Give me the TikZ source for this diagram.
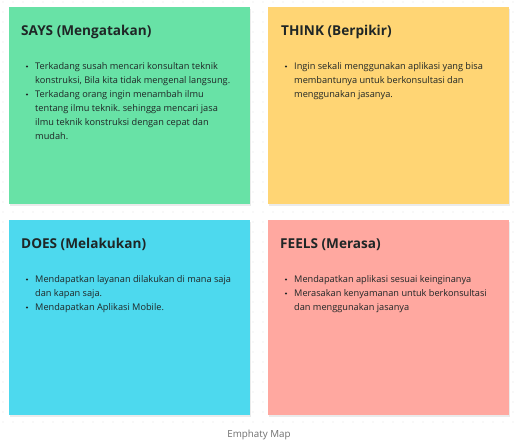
\documentclass[tikz,border=0pt]{standalone}
\usepackage{fontspec}
\setmainfont{Open Sans}
\frenchspacing
\definecolor{saysC}{HTML}{68E2A6}
\definecolor{thinkC}{HTML}{FFD574}
\definecolor{doesC}{HTML}{4DD9EE}
\definecolor{feelsC}{HTML}{FFA8A0}
\definecolor{inkC}{HTML}{1F2626}
\definecolor{capC}{HTML}{707070}
\definecolor{dotC}{HTML}{E2E2E2}
\begin{document}
\begin{tikzpicture}[x=1pt,y=-1pt,
  shadowbox/.style={fill=black!8},
  title/.style={anchor=base west,inner sep=0,font=\fontsize{13.6}{16}\selectfont\bfseries,text=inkC},
  item/.style={anchor=base west,inner sep=0,align=left,font=\fontsize{9.2}{14}\selectfont\frenchspacing,text=inkC},
  bul/.style={circle,fill=inkC,inner sep=0,minimum size=2.3pt},
  captxt/.style={inner sep=0,font=\fontsize{9.8}{11}\selectfont,text=capC}]
\useasboundingbox (0,0) rectangle (522,447);
\fill[white] (0,0) rectangle (522,447);
% dotted canvas
\foreach \xx in {3,13,...,522} {
  \foreach \yy in {2,12,...,425} {
    \fill[dotC] (\xx,\yy) circle (0.55);
  }
}
% shadows
\fill[shadowbox] (9.5,8.5) rectangle (251,205.5);
\fill[shadowbox] (268.5,8.5) rectangle (510,205.5);
\fill[shadowbox] (9.5,221.5) rectangle (251,416.5);
\fill[shadowbox] (268.5,221.5) rectangle (510,416.5);
% cards
\fill[saysC]  (9,7) rectangle (250,204);
\fill[thinkC] (268,7) rectangle (509,204);
\fill[doesC]  (9,220) rectangle (250,415);
\fill[feelsC] (268,220) rectangle (509,415);
% (base anchor of a multi-line node = baseline of its last line)
% SAYS
\node[title] (saysT) at (21,35) {SAYS (Mengatakan)};
\node[bul] (saysB1) at (27,66.5) {};
\node[item] (saysI1) at (35,83.5) {Terkadang susah mencari konsultan teknik\\konstruksi, Bila kita tidak mengenal langsung.};
\node[bul] (saysB2) at (27,94.5) {};
\node[item] (saysI2) at (35,139.5) {Terkadang orang ingin menambah ilmu\\tentang ilmu teknik. sehingga mencari jasa\\ilmu teknik konstruksi dengan cepat dan\\mudah.};
% THINK
\node[title] (thinkT) at (281,35) {THINK (Berpikir)};
\node[bul] (thinkB1) at (286,66.5) {};
\node[item] (thinkI1) at (294,97.5) {Ingin sekali menggunakan aplikasi yang bisa\\membantunya untuk berkonsultasi dan\\menggunakan jasanya.};
% DOES
\node[title] (doesT) at (21,248) {DOES (Melakukan)};
\node[bul] (doesB1) at (27,279.5) {};
\node[item] (doesI1) at (35,296.5) {Mendapatkan layanan dilakukan di mana saja\\dan kapan saja.};
\node[bul] (doesB2) at (27,307.5) {};
\node[item] (doesI2) at (35,310.5) {Mendapatkan Aplikasi Mobile.};
% FEELS
\node[title] (feelsT) at (280,248) {FEELS (Merasa)};
\node[bul] (feelsB1) at (286,279.5) {};
\node[item] (feelsI1) at (294,282.5) {Mendapatkan aplikasi sesuai keinginanya};
\node[bul] (feelsB2) at (286,293.5) {};
\node[item] (feelsI2) at (294,310.5) {Merasakan kenyamanan untuk berkonsultasi\\dan menggunakan jasanya};
% caption
\node[captxt] (caption) at (259,435) {Emphaty Map};
\end{tikzpicture}
\end{document}
